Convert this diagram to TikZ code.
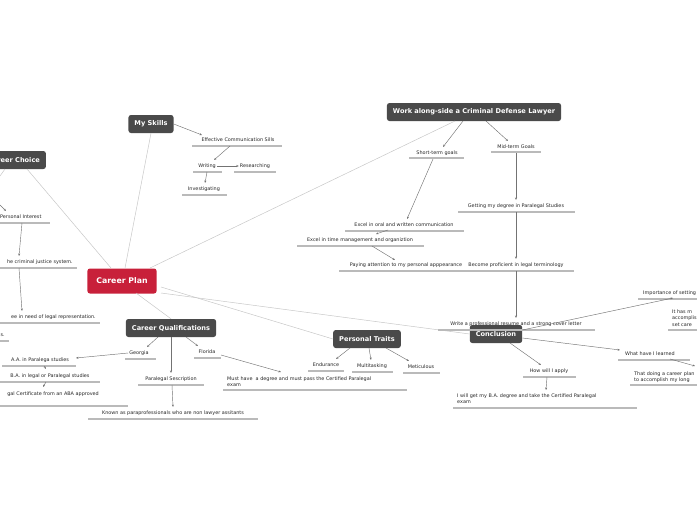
\documentclass[tikz,border=0pt]{standalone}
\usepackage{fontspec}
\setmainfont{DejaVu Sans}
\usetikzlibrary{arrows.meta}
\definecolor{boxg}{HTML}{4A4A4A}
\definecolor{cred}{HTML}{C8203A}
\begin{document}
\begin{tikzpicture}[x=1pt,y=-1pt,
  topic/.style={fill=boxg,text=white,rounded corners=2.5pt,font=\fontsize{6.6}{7}\selectfont\bfseries,inner xsep=6pt,inner ysep=0pt,minimum height=18pt},
  leaf/.style={font=\fontsize{4.9}{6.3}\selectfont,text=black!85,inner xsep=1pt,inner ysep=2.5pt,align=left},
  uline/.style={draw=black!27,line width=1.3pt},
  main/.style={draw=black!22,line width=0.5pt},
  arr/.style={draw=black!55,line width=0.45pt,-{Stealth[length=2.5pt,width=2pt]}}]
\useasboundingbox (0,0) rectangle (697,520);
\begin{scope}
\clip (0,0) rectangle (697,520);
% topics
\node[topic,fill=cred,minimum height=25pt,font=\fontsize{7.8}{8}\selectfont\bfseries,inner xsep=9pt] (cp) at (122,281) {Career Plan};
\node[topic] (ms) at (151,124) {My Skills};
\node[topic] (cc) at (14,160) {Career Choice};
\node[topic] (wa) at (474,112) {Work along-side a Criminal Defense Lawyer};
\node[topic] (cq) at (171,328) {Career Qualifications};
\node[topic] (pt) at (367,339) {Personal Traits};
\node[topic] (co) at (496,334) {Conclusion};
% main lines
\draw[main] (125,268) -- (ms.south);
\draw[main] (111,268) -- (27,169);
\draw[main] (150,268) -- (455,121);
\draw[main] (136,293) -- (cq.north);
\draw[main] (161,287) -- (pt.west);
\draw[main] (161,293) -- (co.west);
\draw[main] (5,169) -- (0,176);
% leaves
\node[leaf] (ecs) at (238,140) {Effective Communication Sills};
\node[leaf] (wr) at (207,166) {Writing};
\node[leaf] (re) at (255,166) {Researching};
\node[leaf] (inv) at (204,189) {Investigating};
\node[leaf,anchor=west] (pi) at (-1,217) {Personal Interest};
\node[leaf,anchor=east] (cjs) at (74,262) {he criminal justice system.};
\node[leaf,anchor=east] (lr) at (97,317) {ee in need of legal representation.};
\node[leaf,anchor=east] (ss) at (6,335) {s.};
\node[leaf] (ge) at (139,353) {Georgia};
\node[leaf] (fl) at (207,352) {Florida};
\node[leaf] (psd) at (171,379) {Paralegal Sescription};
\node[leaf] (kn) at (173,413) {Known as paraprofessionals who are non lawyer assitants};
\node[leaf,anchor=west] (mh) at (226,382) {Must have\ \ a degree and must pass the Certified Paralegal\\exam};
\node[leaf] (aa) at (40,360) {A.A. in Paralega studies};
\node[leaf] (ba) at (50,376) {B.A. in legal or Paralegal studies};
\node[leaf,anchor=east] (gc) at (100,394) {gal Certificate from an ABA approved};
\node[leaf] (st) at (437,153) {Short-term goals};
\node[leaf] (mt) at (516,147) {Mid-term Goals};
\node[leaf] (gd) at (516,206) {Getting my degree in Paralegal Studies};
\node[leaf] (eo) at (404,225) {Excel in oral and written communication};
\node[leaf] (et) at (360,240) {Excel in time management and organiztion};
\node[leaf] (pa) at (406,265) {Paying attention to my personal apppearance};
\node[leaf] (bp) at (516,265) {Become proficient in legal terminology};
\node[leaf] (wp) at (516,324) {Write a professional resume and a strong cover letter};
\node[leaf] (en) at (326,365) {Endurance};
\node[leaf] (mu) at (372,366) {Multitasking};
\node[leaf] (me) at (421,367) {Meticulous};
\node[leaf,anchor=west] (im) at (642,293) {Importance of setting goals};
\node[leaf,anchor=west] (ih) at (671,318) {It has m\\accomplis\\set care};
\node[leaf] (wl) at (650,354) {What have I learned};
\node[leaf,anchor=west] (td) at (633,377) {That doing a career plan\\to accomplish my long};
\node[leaf] (ha) at (549,371) {How will I apply};
\node[leaf,anchor=west] (iw) at (456,399) {I will get my B.A. degree and take the Certified Paralegal\\exam};
% underlines
\foreach \n/\a/\b/\y in {ecs/192/282/146,wr/193/222/172,re/234/276/172,inv/182/227/195,
  pi/-2/50/223,cjs/-2/77/268,lr/-2/100/323,ss/-2/9/341,ge/125/156/359,fl/194/221/358,
  psd/138/204/385,kn/88/258/419,mh/223/407/390,aa/2/76/366,ba/-2/100/382,gc/-2/128/406,
  st/409/464/158,mt/491/541/152,gd/458/575/212,eo/345/464/231,et/297/424/246,pa/339/473/271,
  bp/459/574/271,wp/438/595/330,en/308/344/371,mu/352/393/372,me/403/440/373,
  im/638/699/299,ih/668/699/330,wl/618/690/360,td/630/699/385,ha/523/576/377,iw/453/637/408}
  \draw[uline] (\a,\y) -- (\b,\y);
% arrows
\draw[arr] (ms.east) -- (202,135);
\draw[arr] (230,146) -- (214,160);
\draw[arr] (wr.east) -- (re.west);
\draw[arr] (207,172) -- (205,183);
\draw[arr] (0,205) -- (6,211);
\draw[arr] (22,223) -- (19,256);
\draw[arr] (19,268) -- (22,311);
\draw[arr] (158,337) -- (147,347);
\draw[arr] (cq.south) -- (171,373);
\draw[arr] (186,337) -- (198,346);
\draw[arr] (172,385) -- (173,407);
\draw[arr] (221,355) -- (281,372);
\draw[arr] (ge.west) -- (76,358);
\draw[arr] (44,366) -- (46,369);
\draw[arr] (46,382) -- (43,387);
\draw[arr] (463,121) -- (443,147);
\draw[arr] (486,121) -- (508,141);
\draw[arr] (516,153) -- (516,200);
\draw[arr] (516,212) -- (516,259);
\draw[arr] (516,271) -- (516,318);
\draw[arr] (433,159) -- (407,219);
\draw[arr] (388,230) -- (376,234);
\draw[arr] (372,246) -- (395,260);
\draw[arr] (350,348) -- (336,359);
\draw[arr] (369,348) -- (371,360);
\draw[arr] (386,348) -- (409,361);
\draw[arr] (co.east) ++(0,-4) -- (673,298);
\draw[arr] (co.east) ++(0,4) -- (620,350);
\draw[arr] (670,359) -- (695,366);
\draw[arr] (510,343) -- (541,365);
\draw[arr] (547,377) -- (546,390);
\end{scope}
\end{tikzpicture}
\end{document}
